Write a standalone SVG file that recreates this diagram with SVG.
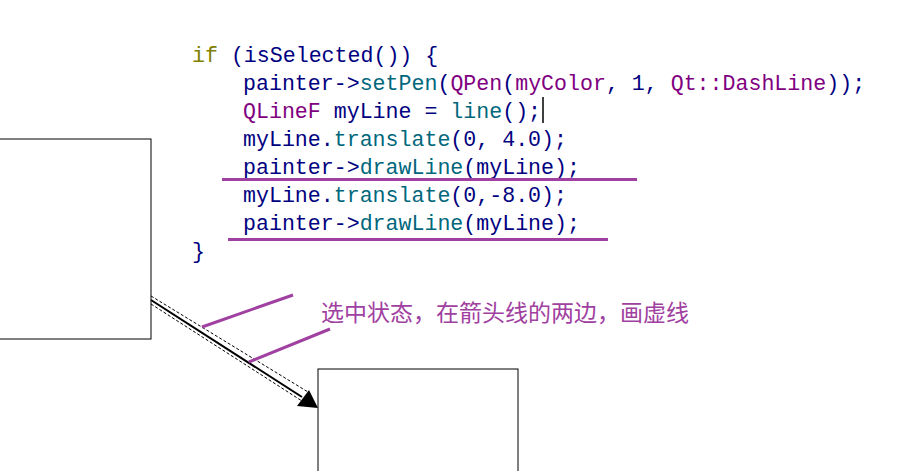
<svg xmlns="http://www.w3.org/2000/svg" width="898" height="471" viewBox="0 0 898 471">
<style>
.c{font-family:"Liberation Mono","DejaVu Sans Mono",monospace;font-size:21.6px;fill:#000080}
.k{fill:#808000}.f{fill:#00677c}.t{fill:#800080}.n{fill:#000080}
.p{stroke:#a040a0;stroke-width:3;fill:none}
.b{fill:#fff;stroke:#000;stroke-width:1}
</style>
<rect width="898" height="471" fill="#fff"/>
<g id="code">
<text class="c" x="192" y="62"><tspan class="k">if</tspan> (isSelected()) {</text>
<text class="c" x="243" y="90">painter-&gt;<tspan class="f">setPen</tspan>(<tspan class="t">QPen</tspan>(<tspan class="t">myColor</tspan>, 1, <tspan class="t">Qt::DashLine</tspan>));</text>
<text class="c" x="243" y="118"><tspan class="t">QLineF</tspan> myLine = <tspan class="f">line</tspan>();</text>
<line x1="543" y1="97" x2="543" y2="123" stroke="#000" stroke-width="1.5"/>
<text class="c" x="243" y="146">myLine.<tspan class="f">translate</tspan>(0, 4.0);</text>
<text class="c" x="243" y="174">painter-&gt;<tspan class="f">drawLine</tspan>(myLine);</text>
<text class="c" x="243" y="202">myLine.<tspan class="f">translate</tspan>(0,-8.0);</text>
<text class="c" x="243" y="230">painter-&gt;<tspan class="f">drawLine</tspan>(myLine);</text>
<text class="c" x="192" y="258">}</text>
</g>
<g id="box1"><rect class="b" x="-2" y="139" width="153" height="200"/></g>
<g id="box2"><rect class="b" x="318" y="369" width="200" height="110"/></g>
<g id="connectors">
<line x1="151" y1="300" x2="302" y2="397" stroke="#000" stroke-width="2"/>
<path d="M297,406 L318,408 L309,390Z" fill="#000"/>
<line x1="151" y1="296" x2="308" y2="392" stroke="#000" stroke-width="1" stroke-dasharray="3,2"/>
<line x1="151" y1="304" x2="302" y2="401" stroke="#000" stroke-width="1" stroke-dasharray="3,2"/>
</g>
<g id="annotations">
<line class="p" x1="222" y1="179.5" x2="637" y2="179.5"/>
<line class="p" x1="228" y1="239.5" x2="608" y2="239.5"/>
<line class="p" x1="202" y1="327" x2="293" y2="295"/>
<line class="p" x1="249" y1="362" x2="330" y2="329"/>
<text x="321" y="321" font-family="'Noto Sans CJK SC',sans-serif" font-size="23" fill="#a040a0">选中状态，在箭头线的两边，画虚线</text>
</g>
</svg>
